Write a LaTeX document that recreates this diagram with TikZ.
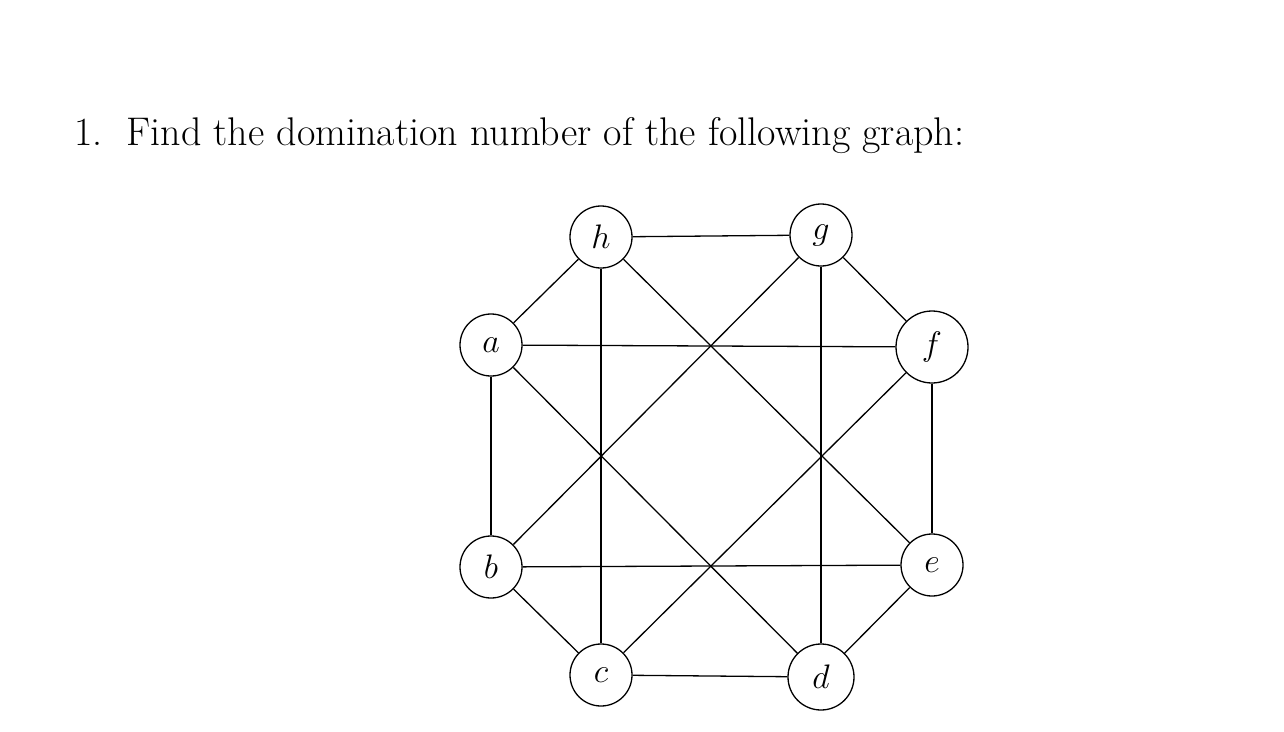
\documentclass[tikz,border=0pt]{standalone}
\usepackage{fix-cm}
\begin{document}
\begin{tikzpicture}[x=1pt,y=-1pt,
  vtx/.style={circle,draw,line width=1.3pt,minimum size=62pt,inner sep=0pt,font=\fontsize{34}{40}\selectfont},
  edge/.style={line width=1.3pt}]
\useasboundingbox (0,0) rectangle (1284,731);
\node[anchor=base west,inner sep=0pt,font=\fontsize{40}{48}\selectfont] (t) at (74,145) {1.\ \ Find the domination number of the following graph:};
\node[vtx] (h) at (601,237) {$h$};
\node[vtx] (g) at (821,235) {$g$};
\node[vtx] (a) at (491,345) {$a$};
\node[vtx,minimum size=72pt] (f) at (932,347) {$f$};
\node[vtx] (b) at (491,567) {$b$};
\node[vtx] (e) at (932,565) {$e$};
\node[vtx] (c) at (601,675) {$c$};
\node[vtx,minimum size=66pt] (d) at (821,677) {$d$};
\foreach \u/\v in {h/g,h/a,g/f,a/f,a/b,f/e,b/e,b/c,e/d,c/d,h/c,g/d,h/e,g/b,a/d,f/c}
  \draw[edge] (\u) -- (\v);
\end{tikzpicture}
\end{document}
